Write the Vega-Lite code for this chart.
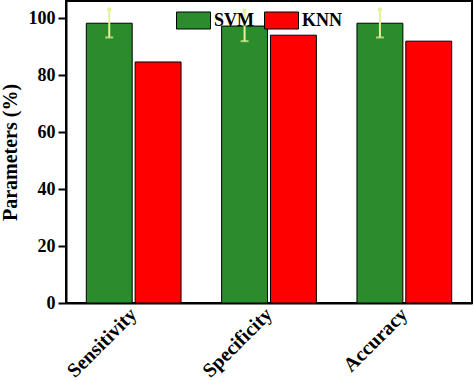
{
  "$schema": "https://vega.github.io/schema/vega-lite/v6.json",
  "autosize": "none",
  "width": 406,
  "height": 302,
  "padding": {"left": 66, "top": 1, "right": 2, "bottom": 77},
  "background": "white",
  "config": {
    "view": {"stroke": "black", "strokeWidth": 2},
    "font": "Liberation Serif"
  },
  "data": {
    "values": [
      {"metric": "Sensitivity", "model": "SVM", "value": 98.2, "lo": 93.2, "hi": 103.0},
      {"metric": "Sensitivity", "model": "KNN", "value": 84.6},
      {"metric": "Specificity", "model": "SVM", "value": 97.2, "lo": 91.9, "hi": 102.6},
      {"metric": "Specificity", "model": "KNN", "value": 94.0},
      {"metric": "Accuracy", "model": "SVM", "value": 98.2, "lo": 93.2, "hi": 103.0},
      {"metric": "Accuracy", "model": "KNN", "value": 91.9}
    ]
  },
  "encoding": {
    "x": {
      "field": "metric", "type": "nominal", "sort": ["Sensitivity", "Specificity", "Accuracy"],
      "scale": {"paddingInner": 0.3, "paddingOuter": 0.15},
      "axis": {"title": null, "labelAngle": -45, "labelFontSize": 20, "labelFontWeight": "bold", "labelColor": "black", "labelBaseline": "middle", "ticks": false, "domainColor": "black", "domainWidth": 2, "labelPadding": 8}
    },
    "xOffset": {"field": "model", "type": "nominal", "sort": ["SVM", "KNN"], "scale": {"paddingInner": 0.06}}
  },
  "layer": [
    {
      "mark": {"type": "bar", "stroke": "black", "strokeWidth": 1},
      "encoding": {
        "y": {
          "field": "value", "type": "quantitative",
          "scale": {"domain": [0, 106], "nice": false},
          "axis": {"title": "Parameters (%)", "titleFontSize": 20, "titleFontWeight": "bold", "titleColor": "black", "titlePadding": 8,
                   "values": [0, 20, 40, 60, 80, 100], "grid": false, "labelFontSize": 18, "labelFontWeight": "bold", "labelColor": "black", "labelPadding": 3,
                   "tickColor": "black", "tickWidth": 2, "tickSize": 8, "domainColor": "black", "domainWidth": 2}
        },
        "fill": {
          "field": "model", "type": "nominal", "sort": ["SVM", "KNN"],
          "scale": {"domain": ["SVM", "KNN"], "range": ["#2a8c2a", "#ff0000"]},
          "legend": {
            "title": null, "orient": "none", "direction": "horizontal", "legendX": 110, "legendY": 2,
            "symbolType": "M-1,-0.5H1V0.5H-1Z", "symbolSize": 1156, "symbolStrokeColor": "black", "symbolStrokeWidth": 1,
            "labelFontSize": 18, "labelFontWeight": "bold", "labelColor": "black", "columnPadding": 8, "labelOffset": 3
          }
        }
      }
    },
    {
      "transform": [{"filter": "datum.model === 'SVM'"}],
      "mark": {"type": "rule", "color": "#e6f29a", "strokeWidth": 2},
      "encoding": {"y": {"field": "lo", "type": "quantitative"}, "y2": {"field": "hi"}}
    },
    {
      "transform": [{"filter": "datum.model === 'SVM'"}],
      "mark": {"type": "tick", "color": "#e6f29a", "thickness": 2, "size": 8},
      "encoding": {"y": {"field": "lo", "type": "quantitative"}}
    },
    {
      "transform": [{"filter": "datum.model === 'SVM'"}],
      "mark": {"type": "point", "filled": true, "color": "#e6f29a", "size": 20, "opacity": 1},
      "encoding": {"y": {"field": "hi", "type": "quantitative"}}
    }
  ]
}
